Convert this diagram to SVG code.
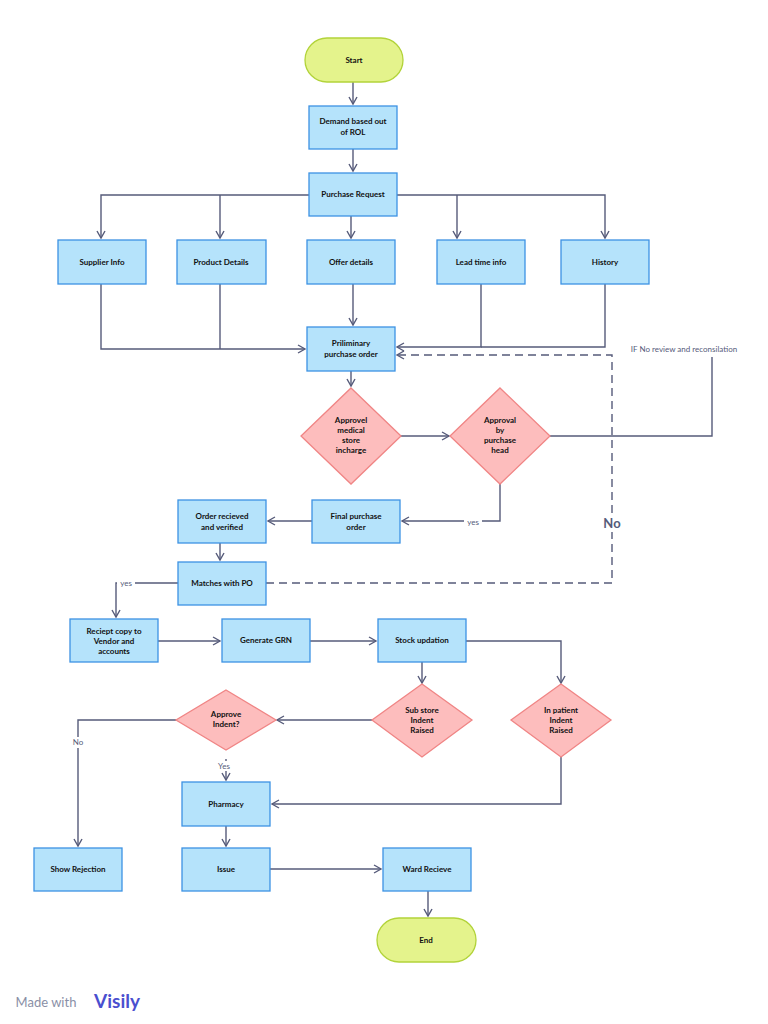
<svg xmlns="http://www.w3.org/2000/svg" width="768" height="1024" viewBox="0 0 768 1024">
<defs>
<marker id="a" markerWidth="10" markerHeight="10" refX="8" refY="5" orient="auto" markerUnits="userSpaceOnUse"><path d="M1,1 L8,5 L1,9" fill="none" stroke="#565b7a" stroke-width="1.4"/></marker>
<style>
.b{fill:#b5e3fb;stroke:#3d92e3;stroke-width:1.3}
.d{fill:#fdbdbd;stroke:#f08585;stroke-width:1.3}
.p{fill:#e4f38c;stroke:#b2d33a;stroke-width:1.3}
.l{fill:none;stroke:#565b7a;stroke-width:1.4}
.la{fill:none;stroke:#565b7a;stroke-width:1.4;marker-end:url(#a)}
.ds{fill:none;stroke:#565b7a;stroke-width:1.4;stroke-dasharray:8 5;marker-end:url(#a)}
.w{fill:#fff}
text{font-family:Lato,"Liberation Sans",sans-serif;font-size:8px;font-weight:bold;fill:#111;text-anchor:middle}
.s{font-weight:normal;fill:#555b7a}
</style>
</defs>
<rect width="768" height="1024" fill="#fff"/>
<g id="connectors">
<path class="la" d="M353,82V104"/>
<path class="la" d="M353,149V171"/>
<path class="la" d="M309,195H101V238"/>
<path class="la" d="M220,195V238"/>
<path class="la" d="M397,195H605V238"/>
<path class="la" d="M457,195V238"/>
<path class="la" d="M351,216V238"/>
<path class="la" d="M101,284V349H305"/>
<path class="l" d="M220,284V349"/>
<path class="la" d="M481,284V347H397"/>
<path class="l" d="M605,284V347H481"/>
<path class="la" d="M353,284V325"/>
<path class="la" d="M351,371V386"/>
<path class="la" d="M401,436H449"/>
<path class="l" d="M550,436H712V357"/>
<path class="ds" d="M266,583H612V355H397"/>
<path class="la" d="M500,484V521H402"/>
<path class="la" d="M312,521H268"/>
<path class="la" d="M220,543V560"/>
<path class="la" d="M178,583H116V617"/>
<path class="la" d="M158,641H220"/>
<path class="la" d="M310,641H376"/>
<path class="la" d="M422,662V683"/>
<path class="la" d="M466,641H561V683"/>
<path class="la" d="M372,720H277"/>
<path class="la" d="M176,720H78V846"/>
<path class="la" d="M226,759V780"/>
<path class="la" d="M561,757V804H272"/>
<path class="la" d="M226,826V846"/>
<path class="la" d="M270,869H381"/>
<path class="la" d="M428,891V916"/>
<rect class="w" x="618" y="343" width="130" height="12"/>
<rect class="w" x="464" y="516" width="18" height="10"/>
<rect class="w" x="117" y="578" width="18" height="10"/>
<rect class="w" x="70" y="737" width="16" height="11"/>
<rect class="w" x="215" y="761" width="18" height="10"/>
<rect class="w" x="602" y="515" width="20" height="17"/>
<text class="s" x="684" y="352">IF No review and reconsilation</text>
<text class="s" x="473" y="525">yes</text>
<text class="s" x="126" y="586">yes</text>
<text class="s" x="78" y="745">No</text>
<text class="s" x="224" y="769">Yes</text>
<text class="s" x="612" y="528" style="font-size:13px;font-weight:bold">No</text>
</g>
<g id="start"><rect class="p" x="305" y="38" width="98" height="44" rx="22"/><text x="354" y="63">Start</text></g>
<g id="demand"><rect class="b" x="309" y="106" width="88" height="43"/><text x="353" y="124">Demand based out</text><text x="353" y="135">of ROL</text></g>
<g id="pr"><rect class="b" x="309" y="173" width="88" height="43"/><text x="353" y="197">Purchase Request</text></g>
<g id="supplier"><rect class="b" x="58" y="240" width="88" height="44"/><text x="102" y="265">Supplier Info</text></g>
<g id="product"><rect class="b" x="177" y="240" width="89" height="44"/><text x="221" y="265">Product Details</text></g>
<g id="offer"><rect class="b" x="307" y="240" width="88" height="44"/><text x="351" y="265">Offer details</text></g>
<g id="lead"><rect class="b" x="437" y="240" width="88" height="44"/><text x="481" y="265">Lead time info</text></g>
<g id="history"><rect class="b" x="561" y="240" width="88" height="44"/><text x="605" y="265">History</text></g>
<g id="prelim"><rect class="b" x="307" y="327" width="88" height="44"/><text x="351" y="346">Priliminary</text><text x="351" y="357">purchase order</text></g>
<g id="approvel"><polygon class="d" points="351,388 401,436 351,484 301,436"/><text x="351" y="423">Approvel</text><text x="351" y="433">medical</text><text x="351" y="443">store</text><text x="351" y="453">incharge</text></g>
<g id="head"><polygon class="d" points="500,388 550,436 500,484 450,436"/><text x="500" y="423">Approval</text><text x="500" y="433">by</text><text x="500" y="443">purchase</text><text x="500" y="453">head</text></g>
<g id="final"><rect class="b" x="312" y="500" width="88" height="43"/><text x="356" y="519">Final  purchase</text><text x="356" y="530">order</text></g>
<g id="order"><rect class="b" x="178" y="500" width="88" height="43"/><text x="222" y="519">Order recieved</text><text x="222" y="530">and verified</text></g>
<g id="matches"><rect class="b" x="178" y="562" width="88" height="43"/><text x="222" y="586">Matches with PO</text></g>
<g id="reciept"><rect class="b" x="70" y="619" width="88" height="43"/><text x="114" y="634">Reciept copy to</text><text x="114" y="644">Vendor and</text><text x="114" y="654">accounts</text></g>
<g id="grn"><rect class="b" x="222" y="619" width="88" height="43"/><text x="266" y="643">Generate GRN</text></g>
<g id="stock"><rect class="b" x="378" y="619" width="88" height="43"/><text x="422" y="643">Stock updation</text></g>
<g id="sub"><polygon class="d" points="422,684 472,720 422,757 372,720"/><text x="422" y="713">Sub store</text><text x="422" y="723">Indent</text><text x="422" y="733">Raised</text></g>
<g id="approve"><polygon class="d" points="226,690 276,720 226,750 176,720"/><text x="226" y="717">Approve</text><text x="226" y="727">Indent?</text></g>
<g id="inpatient"><polygon class="d" points="561,684 611,720 561,757 511,720"/><text x="561" y="713">In patient</text><text x="561" y="723">Indent</text><text x="561" y="733">Raised</text></g>
<g id="pharmacy"><rect class="b" x="182" y="782" width="88" height="44"/><text x="226" y="807">Pharmacy</text></g>
<g id="rejection"><rect class="b" x="34" y="848" width="88" height="43"/><text x="78" y="872">Show Rejection</text></g>
<g id="issue"><rect class="b" x="182" y="848" width="88" height="43"/><text x="226" y="872">Issue</text></g>
<g id="ward"><rect class="b" x="383" y="848" width="88" height="43"/><text x="427" y="872">Ward Recieve</text></g>
<g id="end"><rect class="p" x="377" y="918" width="99" height="44" rx="22"/><text x="426" y="943">End</text></g>
<g id="footer"><text x="46" y="1007" style="font-size:13px;font-weight:normal;fill:#8a8fa6">Made with</text><text x="117" y="1008" style="font-size:19px;font-weight:bold;fill:#4a4fcf">Visily</text></g>
</svg>
